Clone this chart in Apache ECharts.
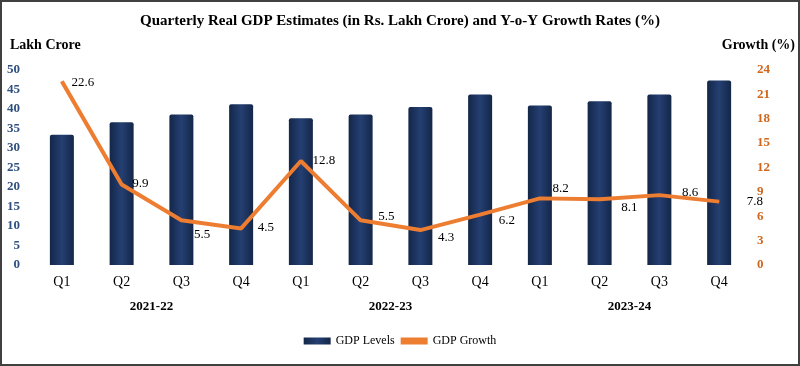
<!DOCTYPE html>
<html>
<head>
<meta charset="utf-8">
<script src="https://cdn.jsdelivr.net/npm/echarts@6/dist/echarts.min.js"></script>
<style>
html,body{margin:0;padding:0;background:#fff;}
#chart{width:800px;height:366px;}
</style>
</head>
<body>
<div id="chart"></div>
<script>
const quarters = ['Q1','Q2','Q3','Q4','Q1','Q2','Q3','Q4','Q1','Q2','Q3','Q4'];
const years = ['2021-22','2022-23','2023-24'];
const gdpLevels = [33.4, 36.6, 38.6, 41.2, 37.6, 38.6, 40.5, 43.7, 40.9, 42.0, 43.7, 47.3];
const gdpGrowth = [22.6, 9.9, 5.5, 4.5, 12.8, 5.5, 4.3, 6.2, 8.2, 8.1, 8.6, 7.8];
const leftTicks = [0, 50, 5];
const rightTicks = [0, 24, 3];

const labelDx = [10, 11, 13, 17, 12, 18, 18, 19, 13, 22, 23, 28];
const labelDy = [2, 0, 15, 0, 0, -3, 8, 6, -9, 9, -2, 0];
const serif = '"Liberation Serif", "DejaVu Serif", serif';

const chart = echarts.init(document.getElementById('chart'));
const barColor = new echarts.graphic.LinearGradient(0,0,1,0,[
  {offset:0,color:'#142748'},
  {offset:0.5,color:'#243f72'},
  {offset:1,color:'#142748'}
]);
chart.setOption({
  animation:false,
  textStyle:{fontFamily:serif},
  graphic:[{type:'rect',shape:{x:1,y:1,width:798,height:364},style:{fill:'none',stroke:'#404040',lineWidth:2},silent:true}],
  title:{text:'Quarterly Real GDP Estimates (in Rs. Lakh Crore) and Y-o-Y Growth Rates (%)',left:'center',top:9,
    textStyle:{fontFamily:serif,fontWeight:'bold',fontSize:15,color:'#000'}},
  legend:{bottom:14,left:'center',itemGap:6,itemWidth:27,itemHeight:7,
    textStyle:{fontFamily:serif,fontSize:12,color:'#000'},
    data:[{name:'GDP Levels',icon:'rect'},{name:'GDP Growth',icon:'rect',itemStyle:{color:'#ED7D31'}}]},
  grid:{left:32,right:51,top:70,bottom:101},
  xAxis:[
    {type:'category',data:quarters,axisLine:{show:false},axisTick:{show:false},
      axisLabel:{color:'#000',fontSize:14,fontFamily:serif,margin:10}},
    {type:'category',data:years,position:'bottom',offset:25,axisLine:{show:false},axisTick:{show:false},
      axisLabel:{color:'#000',fontSize:13,fontWeight:'bold',fontFamily:serif,margin:10}}
  ],
  yAxis:[
    {type:'value',min:leftTicks[0],max:leftTicks[1],interval:leftTicks[2],name:'Lakh Crore',
      nameLocation:'end',nameGap:18,nameTextStyle:{color:'#000',fontWeight:'bold',fontSize:14,fontFamily:serif,align:'left',padding:[0,0,0,-22]},
      splitLine:{show:false},axisLine:{show:false},axisTick:{show:false},
      axisLabel:{color:'#2f4f7f',fontWeight:'bold',fontSize:13,fontFamily:serif,margin:12}},
    {type:'value',min:rightTicks[0],max:rightTicks[1],interval:rightTicks[2],name:'Growth (%)',
      nameLocation:'end',nameGap:18,nameTextStyle:{color:'#000',fontWeight:'bold',fontSize:14,fontFamily:serif,align:'right',padding:[0,-46,0,0]},
      splitLine:{show:false},axisLine:{show:false},axisTick:{show:false},
      axisLabel:{color:'#d0671f',fontWeight:'bold',fontSize:13,fontFamily:serif,margin:8}}
  ],
  series:[
    {name:'GDP Levels',type:'bar',data:gdpLevels,barWidth:24,xAxisIndex:0,yAxisIndex:0,
      itemStyle:{color:barColor,borderRadius:[2,2,0,0]}},
    {name:'GDP Growth',type:'line',
      data:gdpGrowth.map((v,i)=>({value:v,label:{position:[labelDx[i],labelDy[i]]}})),
      xAxisIndex:0,yAxisIndex:1,symbol:'circle',symbolSize:1,showSymbol:true,
      lineStyle:{color:'#ED7D31',width:4},itemStyle:{color:'#ED7D31'},
      label:{show:true,align:'left',verticalAlign:'middle',color:'#000',fontSize:13,fontFamily:serif,
        formatter:p=>p.value.toFixed(1)}}
  ]
});
</script>
</body>
</html>
